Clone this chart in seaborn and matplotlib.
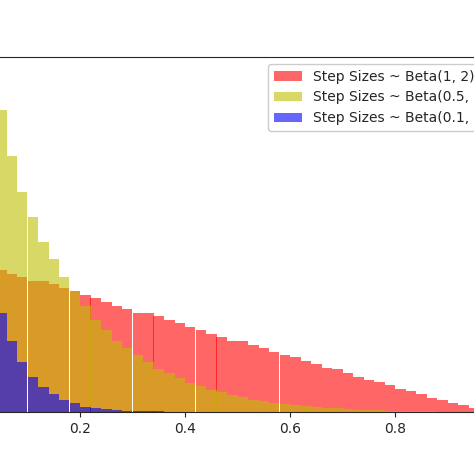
import numpy as np
import pandas as pd
import matplotlib.pyplot as plt
import seaborn as sns

# bin heights (fraction of axis height), 50 bins of width 0.02 on [0, 1]
red = [0.43, 0.41, 0.40, 0.39, 0.38, 0.37, 0.37, 0.36, 0.35, 0.34,
       0.33, 0.32, 0.31, 0.30, 0.29, 0.28, 0.28, 0.27, 0.26, 0.25,
       0.24, 0.23, 0.22, 0.21, 0.20, 0.20, 0.19, 0.18, 0.17, 0.16,
       0.155, 0.145, 0.135, 0.125, 0.12, 0.11, 0.10, 0.09, 0.085, 0.075,
       0.065, 0.06, 0.05, 0.04, 0.035, 0.025, 0.02, 0.012, 0.006, 0.002]
yellow = [1.30, 1.05, 0.85, 0.72, 0.62, 0.55, 0.48, 0.43, 0.38, 0.34,
          0.30, 0.26, 0.23, 0.20, 0.18, 0.16, 0.14, 0.12, 0.11, 0.095,
          0.082, 0.072, 0.063, 0.055, 0.048, 0.041, 0.035, 0.030, 0.026, 0.022,
          0.019, 0.016, 0.014, 0.012, 0.010, 0.008, 0.007, 0.006, 0.005, 0.004,
          0.003, 0.003, 0.002, 0.002, 0.001, 0.001, 0.001, 0.0, 0.0, 0.0]
blue = [0.60, 0.36, 0.28, 0.20, 0.14, 0.10, 0.07, 0.05, 0.035, 0.025,
        0.015, 0.010, 0.008, 0.006, 0.004, 0.003, 0.002, 0.002, 0.001, 0.001] + [0.0] * 30
labels = ['Step Sizes ~ Beta(1, 2)', 'Step Sizes ~ Beta(0.5, 5)', 'Step Sizes ~ Beta(0.1, 5)']

edges = list(np.linspace(0, 1, len(red) + 1))
centers = [(edges[i] + edges[i + 1]) / 2 for i in range(len(red))]

sns.set_style("ticks")
fig = plt.figure(figsize=(4.74, 4.74), dpi=100)
ax = fig.add_axes([-25 / 474, 62 / 474, 525 / 474, 355 / 474])

for vals, col, lab in zip([red, yellow, blue], ['red', 'y', 'blue'], labels):
    d = pd.DataFrame({'x': centers, 'w': vals})
    sns.histplot(data=d, x='x', weights='w', bins=edges, color=col, alpha=0.6,
                 linewidth=0, label=lab, ax=ax)

ax.set_xlim(0, 1)
ax.set_ylim(0, 1)
ax.set_xticks([0.0, 0.2, 0.4, 0.6, 0.8, 1.0])
ax.set_yticks([])
ax.set_ylabel('')
ax.set_xlabel('')
ax.tick_params(labelsize=10)
for s in ax.spines.values():
    s.set_visible(True)
ax.legend(loc='upper right', fontsize=10, framealpha=1)
fig.savefig('out.png', dpi=100)
